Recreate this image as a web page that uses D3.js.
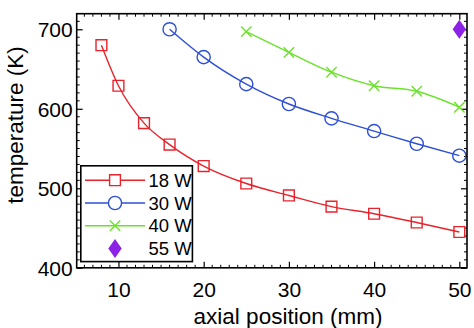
<!DOCTYPE html>
<html>
<head>
<meta charset="utf-8">
<script src="https://cdn.jsdelivr.net/npm/d3@7"></script>
<style>
  html, body { margin: 0; padding: 0; background: #fff; }
  svg { display: block; font-family: "Liberation Sans", Arial, Helvetica, sans-serif; }
</style>
</head>
<body>
<svg id="chart" width="474" height="328"></svg>
<script>
// Axial temperature profiles at several heating powers
const pos18 = [8, 10, 13, 16, 20, 25, 30, 35, 40, 45, 50];
const temp18 = [680, 629, 582, 555, 528, 506, 491, 477, 468, 457, 445];
const pos30 = [16, 20, 25, 30, 35, 40, 45, 50];
const temp30 = [700, 665, 631, 606, 588, 572, 556, 541];
const pos40 = [25, 30, 35, 40, 45, 50];
const temp40 = [697, 671, 646, 629, 622, 602];
const pos55 = [50];
const temp55 = [700];

const seriesNames = ["18 W", "30 W", "40 W", "55 W"];
const xTicks = [10, 20, 30, 40, 50];
const yTicks = [400, 500, 600, 700];

const colors = ["#e8232b", "#2d4fd6", "#6be32b", "#8b22e6"];
const markers = ["square", "circle", "cross", "diamond"];

const series = [
  { name: seriesNames[0], xs: pos18, ys: temp18, color: colors[0], marker: markers[0], line: true },
  { name: seriesNames[1], xs: pos30, ys: temp30, color: colors[1], marker: markers[1], line: true },
  { name: seriesNames[2], xs: pos40, ys: temp40, color: colors[2], marker: markers[2], line: true },
  { name: seriesNames[3], xs: pos55, ys: temp55, color: colors[3], marker: markers[3], line: false }
];

const L = 76.7, T = 13.7, R = 467, B = 267.8;
const x = d3.scaleLinear().domain([5.1, 50.9]).range([L, R]);
const y = d3.scaleLinear().domain([400, 719.6]).range([B, T]);

const svg = d3.select("#chart");

// marker path generators (centered at 0,0)
function markerPath(kind) {
  if (kind === "square") { const h = 5.4; return `M${-h},${-h}H${h}V${h}H${-h}Z`; }
  if (kind === "circle") { const r = 6.6; return `M${r},0A${r},${r} 0 1,1 ${-r},0A${r},${r} 0 1,1 ${r},0Z`; }
  if (kind === "cross") { const h = 5.2; return `M${-h},${-h}L${h},${h}M${-h},${h}L${h},${-h}`; }
  if (kind === "diamond") { return "M0,-9.5L6.7,0L0,9.5L-6.7,0Z"; }
}

// minor ticks
const minorX = d3.range(6, 51, 1).filter(v => v % 10 !== 0);
const minorY = d3.range(410, 720, 10).filter(v => v % 100 !== 0);
const tickG = svg.append("g").attr("stroke", "#000").attr("stroke-width", 1);
minorX.forEach(v => {
  tickG.append("line").attr("x1", x(v)).attr("x2", x(v)).attr("y1", B).attr("y2", B - 3);
  tickG.append("line").attr("x1", x(v)).attr("x2", x(v)).attr("y1", T).attr("y2", T + 3);
});
minorY.forEach(v => {
  tickG.append("line").attr("y1", y(v)).attr("y2", y(v)).attr("x1", L).attr("x2", L + 3);
  tickG.append("line").attr("y1", y(v)).attr("y2", y(v)).attr("x1", R).attr("x2", R - 3);
});

// major axes
const fontTick = 21;
const xAxis = svg.append("g").attr("transform", `translate(0,${B})`)
  .call(d3.axisBottom(x).tickValues(xTicks).tickSizeInner(-6).tickSizeOuter(0).tickPadding(0).tickFormat(d3.format("d")));
xAxis.select(".domain").remove();
xAxis.selectAll("text").attr("y", 28.9).attr("dy", null).attr("font-size", fontTick).attr("fill", "#000").style("font-family", "Liberation Sans, Arial, sans-serif");

const yAxis = svg.append("g").attr("transform", `translate(${L},0)`)
  .call(d3.axisLeft(y).tickValues(yTicks).tickSizeInner(-6).tickSizeOuter(0).tickPadding(0).tickFormat(d3.format("d")));
yAxis.select(".domain").remove();
yAxis.selectAll("text").attr("x", -4).attr("dy", "0.36em").attr("font-size", fontTick).attr("fill", "#000").style("font-family", "Liberation Sans, Arial, sans-serif");

const xTop = svg.append("g").attr("transform", `translate(0,${T})`)
  .call(d3.axisTop(x).tickValues(xTicks).tickSizeInner(-6).tickSizeOuter(0).tickFormat(""));
xTop.select(".domain").remove();
const yRight = svg.append("g").attr("transform", `translate(${R},0)`)
  .call(d3.axisRight(y).tickValues(yTicks).tickSizeInner(-6).tickSizeOuter(0).tickFormat(""));
yRight.select(".domain").remove();
svg.selectAll(".tick line").attr("stroke", "#000").attr("stroke-width", 1.2);

// data lines and markers
const line = d3.line().x(d => x(d[0])).y(d => y(d[1])).curve(d3.curveMonotoneX);
series.forEach(s => {
  const pts = s.xs.map((v, i) => [v, s.ys[i]]);
  if (s.line) {
    svg.append("path").attr("d", line(pts)).attr("fill", "none")
      .attr("stroke", s.color).attr("stroke-width", 1.4);
  }
  svg.append("g").selectAll("path").data(pts).join("path")
    .attr("transform", d => `translate(${x(d[0])},${y(d[1])})`)
    .attr("d", markerPath(s.marker))
    .attr("fill", s.marker === "diamond" ? s.color : "none")
    .attr("stroke", s.color)
    .attr("stroke-width", s.marker === "diamond" ? 0 : 1.4);
});

// frame
svg.append("rect").attr("x", L).attr("y", T).attr("width", R - L).attr("height", B - T)
  .attr("fill", "none").attr("stroke", "#000").attr("stroke-width", 1.6);

// legend
const lg = svg.append("g");
lg.append("rect").attr("x", 80.8).attr("y", 165.8).attr("width", 111.6).attr("height", 95.8)
  .attr("fill", "#fff").attr("stroke", "#000").attr("stroke-width", 1.6);
series.forEach((s, i) => {
  const cy = 180.2 + i * 22.8;
  const g = lg.append("g");
  if (s.line) {
    g.append("line").attr("x1", 85).attr("x2", 145).attr("y1", cy).attr("y2", cy)
      .attr("stroke", s.color).attr("stroke-width", 1.4);
  }
  g.append("path").attr("transform", `translate(115,${cy})`).attr("d", markerPath(s.marker))
    .attr("fill", s.marker === "diamond" ? s.color : (s.marker === "cross" ? "none" : "#fff"))
    .attr("stroke", s.color).attr("stroke-width", s.marker === "diamond" ? 0 : 1.4);
  g.append("text").attr("x", 148.5).attr("y", cy).attr("dy", "0.36em")
    .attr("font-size", 18.5).attr("fill", "#000").text(s.name);
});

// axis titles
svg.append("text").attr("x", 288).attr("y", 324).attr("text-anchor", "middle")
  .attr("font-size", 22.5).attr("fill", "#000").text("axial position (mm)");
svg.append("text").attr("transform", "translate(22.7,125) rotate(-90)").attr("text-anchor", "middle")
  .attr("font-size", 22.5).attr("fill", "#000").text("temperature (K)");
</script>
</body>
</html>
